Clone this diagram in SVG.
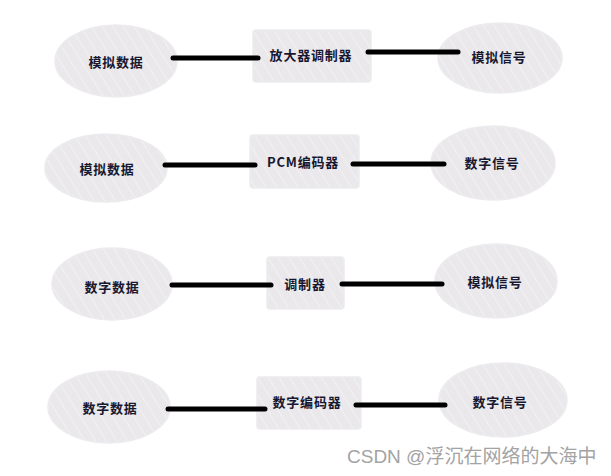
<svg xmlns="http://www.w3.org/2000/svg" width="611" height="476" viewBox="0 0 611 476">
<defs>
<pattern id="hach" patternUnits="userSpaceOnUse" width="9" height="9" patternTransform="rotate(-32)">
<rect width="9" height="9" fill="#eae8eb"/>
<line x1="0" y1="0" x2="0" y2="9" stroke="#f8f7f9" stroke-width="1.1"/>
</pattern>
</defs>
<style>
.sh{fill:url(#hach);stroke:#ecebee;stroke-width:1.5}
.t{font-family:"Noto Sans CJK SC","Liberation Sans",sans-serif;font-size:13px;font-weight:700;fill:#171730;text-anchor:middle;letter-spacing:0.8px}
.c{stroke:#000;stroke-width:5;stroke-linecap:round;fill:none}
.wm{font-family:"Liberation Sans","Noto Sans CJK SC",sans-serif;font-size:19px;fill:#a3a3a3}
</style>
<rect width="611" height="476" fill="#fff"/>
<g id="n1a"><ellipse class="sh" cx="116" cy="61" rx="61" ry="36"/><text class="t" x="116" y="67">模拟数据</text></g>
<g id="n1b"><rect class="sh" x="253" y="30" width="118" height="52" rx="3"/><text class="t" x="311" y="60">放大器调制器</text></g>
<g id="n1c"><ellipse class="sh" cx="500" cy="58" rx="62" ry="35"/><text class="t" x="499" y="62">模拟信号</text></g>
<g id="n2a"><ellipse class="sh" cx="106" cy="168" rx="61" ry="34"/><text class="t" x="107" y="174">模拟数据</text></g>
<g id="n2b"><rect class="sh" x="250" y="135" width="109" height="53" rx="3"/><text class="t" x="303" y="167">PCM编码器</text></g>
<g id="n2c"><ellipse class="sh" cx="493" cy="163" rx="62" ry="37"/><text class="t" x="492" y="168">数字信号</text></g>
<g id="n3a"><ellipse class="sh" cx="112" cy="284" rx="60" ry="36"/><text class="t" x="112" y="292">数字数据</text></g>
<g id="n3b"><rect class="sh" x="267" y="257" width="77" height="52" rx="3"/><text class="t" x="305" y="289">调制器</text></g>
<g id="n3c"><ellipse class="sh" cx="496" cy="281" rx="61" ry="37"/><text class="t" x="495" y="287">模拟信号</text></g>
<g id="n4a"><ellipse class="sh" cx="109" cy="407" rx="61" ry="36"/><text class="t" x="110" y="413">数字数据</text></g>
<g id="n4b"><rect class="sh" x="257" y="377" width="104" height="52" rx="3"/><text class="t" x="307" y="407">数字编码器</text></g>
<g id="n4c"><ellipse class="sh" cx="503" cy="400" rx="64" ry="37"/><text class="t" x="500" y="407">数字信号</text></g>
<g id="connectors">
<line class="c" x1="173" y1="58" x2="258" y2="58"/>
<line class="c" x1="368" y1="52" x2="458" y2="52"/>
<line class="c" x1="165" y1="165" x2="255" y2="165"/>
<line class="c" x1="353" y1="164" x2="444" y2="164"/>
<line class="c" x1="172" y1="285" x2="271" y2="285"/>
<line class="c" x1="342" y1="284" x2="442" y2="284"/>
<line class="c" x1="168" y1="409" x2="265" y2="409"/>
<line class="c" x1="356" y1="405" x2="445" y2="405"/>
</g>
<text class="wm" x="347" y="463">CSDN @浮沉在网络的大海中</text>
</svg>
